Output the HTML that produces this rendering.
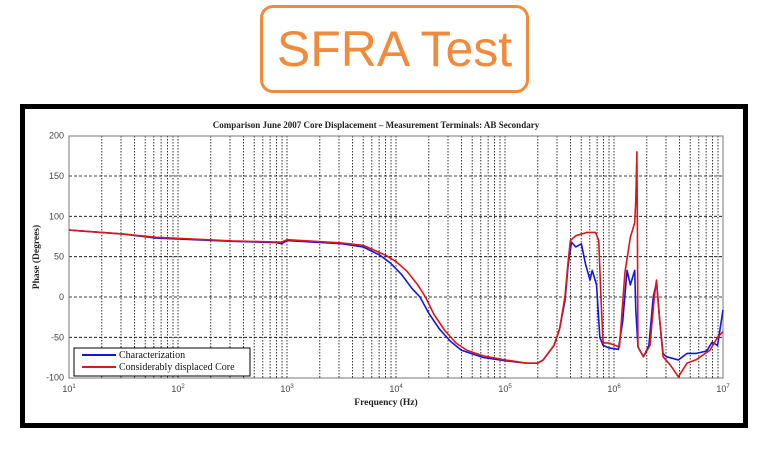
<!DOCTYPE html>
<html><head><meta charset="utf-8"><style>
body{margin:0;width:768px;height:449px;background:#fff;overflow:hidden;position:relative;font-family:"Liberation Sans",sans-serif}
.tb{position:absolute;left:260px;top:5px;width:263px;height:82px;border:3px solid #F28A3C;border-radius:13px;color:#F28A3C;font-size:50px;line-height:82px;text-align:center}
.fr{position:absolute;left:20px;top:104px;width:718px;height:314px;border:5px solid #000}
</style></head><body>
<div class="tb">SFRA Test</div>
<div class="fr"></div>
<svg id="s" width="768" height="449" style="position:absolute;left:0;top:0">
<text x="376" y="128" text-anchor="middle" font-family="Liberation Serif,serif" font-weight="bold" font-size="9" fill="#222">Comparison June 2007 Core Displacement – Measurement Terminals: AB Secondary</text>
<text x="386" y="405" text-anchor="middle" font-family="Liberation Serif,serif" font-weight="bold" font-size="9.5" fill="#222">Frequency (Hz)</text>
<text transform="translate(39,257) rotate(-90)" text-anchor="middle" font-family="Liberation Serif,serif" font-weight="bold" font-size="9.5" fill="#222">Phase (Degrees)</text>
<g id="grid"></g>
<g transform="matrix(109,0,0,-0.8067,-40,297)" fill="none" stroke-width="1.6" stroke-linejoin="round">
<polyline vector-effect="non-scaling-stroke" stroke="#1515e0" points="1,83 1.5,78 1.8,73 2.5,69 2.9,67.5 2.95,66 3,70 3.5,66 3.7,62 3.85,52 3.95,42 4.05,28 4.15,10 4.22,0 4.3,-20 4.4,-40 4.5,-55 4.6,-66 4.8,-75 5,-79 5.2,-82 5.3,-82 5.35,-78 5.45,-60 5.5,-40 5.55,-5 5.58,40 5.61,68 5.65,62 5.7,66 5.74,40 5.78,21 5.8,33 5.84,15 5.87,-50 5.9,-60 5.95,-63 6.04,-65 6.08,-30 6.12,33 6.15,15 6.19,33 6.2,-16 6.22,-62 6.27,-74 6.32,-60 6.36,0 6.39,18 6.42,-30 6.45,-70 6.48,-74 6.59,-78 6.67,-70 6.75,-70 6.85,-67 6.9,-56 6.95,-60 7,-16"/>
<polyline vector-effect="non-scaling-stroke" stroke="#e01515" points="1,83 1.5,78 1.8,74 2.5,69.5 2.95,68 3,71 3.5,67 3.7,64 3.9,52 4,44 4.1,32 4.2,15 4.27,0 4.35,-22 4.45,-42 4.55,-57 4.65,-66 4.8,-73 5,-78 5.2,-82 5.3,-82 5.35,-78 5.45,-60 5.5,-40 5.55,0 5.58,45 5.6,70 5.65,76 5.75,80 5.83,80 5.86,70 5.88,0 5.9,-57 5.95,-57 6.05,-62 6.1,30 6.15,74 6.19,92 6.2,120 6.21,180 6.215,80 6.22,-62 6.27,-74 6.33,-60 6.37,0 6.39,21 6.42,-30 6.45,-74 6.52,-85 6.59,-99 6.67,-82 6.75,-78 6.88,-66 6.95,-50 7,-43"/>
</g>
<rect x="74" y="348" width="176" height="28" fill="#fff" stroke="#000" stroke-width="1"/>
<line x1="82" y1="355" x2="116" y2="355" stroke="#1515e0" stroke-width="2"/>
<line x1="82" y1="367" x2="116" y2="367" stroke="#e01515" stroke-width="2"/>
<text x="119" y="358" font-family="Liberation Serif,serif" font-size="10" fill="#111">Characterization</text>
<text x="119" y="370" font-family="Liberation Serif,serif" font-size="10" fill="#111">Considerably displaced Core</text>
</svg>
<script>
var g=document.getElementById('grid'),h='';
function X(L){return 69+(L-1)*109}function Y(v){return 297-v*0.8067}
for(var d=1;d<7;d++)for(var k=1;k<10;k++){if(k==1&&d==1)continue;var x=X(d+Math.log10(k));h+='<line x1="'+x+'" y1="136" x2="'+x+'" y2="378" stroke="#000" stroke-width="0.8" stroke-dasharray="1.5,1.5"/>';}
for(var v=-50;v<=150;v+=50){var y=Y(v);h+='<line x1="69" y1="'+y+'" x2="723" y2="'+y+'" stroke="#000" stroke-width="0.8" stroke-dasharray="3,2"/>';}
h+='<rect x="69" y="136" width="654" height="242" fill="none" stroke="#777" stroke-width="1"/>';
for(var v=-100;v<=200;v+=50){h+='<text x="64" y="'+(Y(v)+3)+'" text-anchor="end" font-size="9" fill="#444">'+v+'</text>';}
for(var d=1;d<=7;d++){h+='<text x="'+X(d)+'" y="392" text-anchor="middle" font-size="9" fill="#444">10<tspan dy="-4" font-size="6">'+d+'</tspan></text>';}
g.innerHTML=h;
</script>
</body></html>
